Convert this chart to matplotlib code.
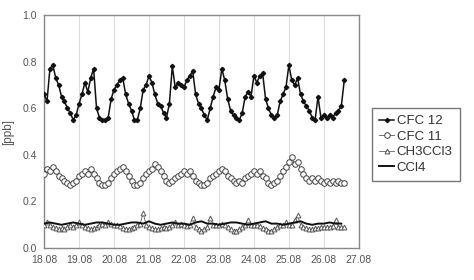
import numpy as np
import matplotlib
matplotlib.use("Agg")
import matplotlib.pyplot as plt

plt.rcParams["font.family"] = ["Liberation Sans", "DejaVu Sans"]

# time in days since 18.08 00:00, 2-hour steps
T_STEP = 1 / 12
cfc12 = [0.66, 0.63, 0.77, 0.785, 0.73, 0.70, 0.65, 0.63, 0.60, 0.58, 0.55, 0.57,
         0.62, 0.66, 0.71, 0.67, 0.73, 0.77, 0.60, 0.56, 0.55, 0.55, 0.56, 0.64,
         0.68, 0.70, 0.72, 0.73, 0.66, 0.62, 0.59, 0.55, 0.55, 0.60, 0.68, 0.70,
         0.74, 0.71, 0.66, 0.62, 0.61, 0.58, 0.56, 0.62, 0.78, 0.69, 0.71, 0.70,
         0.69, 0.72, 0.74, 0.76, 0.66, 0.62, 0.60, 0.57, 0.55, 0.60, 0.65, 0.69,
         0.68, 0.77, 0.72, 0.64, 0.59, 0.57, 0.56, 0.55, 0.58, 0.65, 0.67, 0.65,
         0.74, 0.71, 0.74, 0.75, 0.64, 0.60, 0.57, 0.56, 0.57, 0.63, 0.66, 0.69,
         0.785, 0.72, 0.70, 0.73, 0.66, 0.63, 0.61, 0.59, 0.56, 0.55, 0.65, 0.56,
         0.57, 0.56, 0.57, 0.56, 0.58, 0.59, 0.61, 0.72]
cfc11 = [0.32, 0.34, 0.33, 0.35, 0.33, 0.31, 0.30, 0.29, 0.28, 0.27, 0.28, 0.29,
         0.31, 0.32, 0.33, 0.32, 0.34, 0.32, 0.30, 0.28, 0.27, 0.27, 0.28, 0.30,
         0.32, 0.33, 0.34, 0.35, 0.33, 0.31, 0.29, 0.27, 0.27, 0.28, 0.30, 0.32,
         0.33, 0.34, 0.36, 0.35, 0.33, 0.31, 0.29, 0.28, 0.29, 0.30, 0.31, 0.32,
         0.33, 0.32, 0.33, 0.31, 0.29, 0.28, 0.27, 0.27, 0.28, 0.30, 0.31, 0.32,
         0.33, 0.34, 0.33, 0.31, 0.30, 0.29, 0.28, 0.29, 0.28, 0.30, 0.31, 0.32,
         0.33, 0.32, 0.33, 0.31, 0.30, 0.28, 0.27, 0.28, 0.29, 0.31, 0.33, 0.35,
         0.37, 0.39, 0.36, 0.37, 0.34, 0.32, 0.30, 0.29, 0.30, 0.29, 0.30, 0.29,
         0.28, 0.29, 0.28, 0.29, 0.28, 0.29, 0.28, 0.28]
ch3ccl3 = [0.10, 0.11, 0.10, 0.09, 0.085, 0.08, 0.085, 0.08, 0.09, 0.10, 0.09, 0.10,
           0.11, 0.10, 0.09, 0.085, 0.08, 0.085, 0.09, 0.10, 0.105, 0.10, 0.11, 0.105,
           0.10, 0.10, 0.095, 0.085, 0.08, 0.08, 0.085, 0.09, 0.10, 0.105, 0.15, 0.10,
           0.09, 0.085, 0.08, 0.08, 0.085, 0.09, 0.085, 0.09, 0.10, 0.11, 0.10, 0.105,
           0.10, 0.095, 0.10, 0.13, 0.09, 0.08, 0.075, 0.08, 0.09, 0.13, 0.10, 0.10,
           0.10, 0.105, 0.10, 0.09, 0.08, 0.075, 0.075, 0.08, 0.09, 0.10, 0.12, 0.10,
           0.10, 0.10, 0.095, 0.085, 0.08, 0.075, 0.075, 0.08, 0.09, 0.10, 0.10, 0.11,
           0.10, 0.10, 0.12, 0.14, 0.10, 0.09, 0.085, 0.08, 0.08, 0.085, 0.085, 0.09,
           0.09, 0.09, 0.09, 0.095, 0.12, 0.09, 0.09, 0.09]
# CCl4 at 4-hour steps
ccl4 = [0.105, 0.11, 0.105, 0.10, 0.105, 0.11, 0.105, 0.10, 0.105, 0.11, 0.11, 0.105,
        0.10, 0.10, 0.105, 0.11, 0.11, 0.105, 0.115, 0.105, 0.10, 0.105, 0.11, 0.105,
        0.105, 0.10, 0.11, 0.115, 0.105, 0.105, 0.10, 0.105, 0.11, 0.11, 0.105, 0.10,
        0.105, 0.11, 0.115, 0.105, 0.105, 0.10, 0.105, 0.11, 0.115, 0.105, 0.10, 0.105,
        0.105, 0.11, 0.105, 0.105]
day_labels = ["18.08", "19.08", "20.08", "21.08", "22.08", "23.08",
              "24.08", "25.08", "26.08", "27.08"]

t = np.arange(len(cfc12)) * T_STEP
t4 = np.arange(len(ccl4)) * (2 * T_STEP)

fig = plt.figure(figsize=(4.74, 2.8), dpi=100)
ax = fig.add_axes([0.093, 0.114, 0.664, 0.832])

txt = "#555555"
ax.plot(t, cfc12, "-D", color="#111111", lw=1.1, ms=2.2, label="CFC 12", zorder=4)
ax.plot(t, cfc11, "-o", color="#555555", lw=0.6, ms=4, mfc="white", mec="#444444",
        mew=0.7, label="CFC 11", zorder=3)
ax.plot(t, ch3ccl3, "-^", color="#666666", lw=0.6, ms=3.5, mfc="white", mec="#555555",
        mew=0.7, label="CH3CCl3", zorder=3)
ax.plot(t4, ccl4, "-", color="#111111", lw=1.4, label="CCl4", zorder=5)

ax.set_xlim(0, 9)
ax.set_ylim(0, 1.0)
ax.set_xticks(range(len(day_labels)))
ax.set_xticklabels(day_labels)
ax.set_yticks(np.arange(0, 1.01, 0.2))
ax.set_yticklabels([f"{v:.1f}" for v in np.arange(0, 1.01, 0.2)])
ax.tick_params(length=0, labelsize=7.5, colors=txt, pad=5)
ax.grid(axis="x", color="#dddddd", lw=0.8)
for s in ax.spines.values():
    s.set_color("#888888")
    s.set_linewidth(1.0)
ax.set_ylabel("[ppb]", fontsize=8.5, color=txt, labelpad=6)

leg = ax.legend(loc="upper left", bbox_to_anchor=(1.02, 0.63), fontsize=9.5,
                handlelength=1.15, handletextpad=0.2, labelspacing=0.25,
                borderpad=0.55, fancybox=False, framealpha=1, edgecolor="#777777")
for tx in leg.get_texts():
    tx.set_color("#333333")

fig.savefig("out.png", dpi=100)
